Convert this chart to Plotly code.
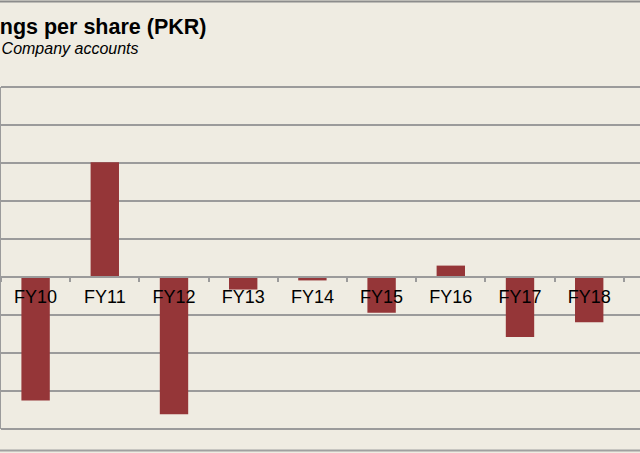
import plotly.graph_objects as go

categories = ["FY10", "FY11", "FY12", "FY13", "FY14", "FY15", "FY16", "FY17", "FY18"]
eps_values = [-6.5, 6.04, -7.22, -0.66, -0.18, -1.88, 0.6, -3.16, -2.38]

title_text = "Earnings per share (PKR)"
source_text = "Source: Company accounts"

BG = "#EFECE2"
BAR = "#953638"
GRID = "#9B9B9B"
FONT = "Liberation Sans, Arial, sans-serif"

W, H = 640, 453
ML, MR, MT, MB = 1, 0, 87, 24

fig = go.Figure()
fig.add_trace(go.Bar(
    x=categories, y=eps_values,
    marker=dict(color=BAR, line=dict(width=0)),
    width=0.41,
))

plot_w = W - ML - MR
cat_px = 69.2
x_max = -0.5 + plot_w / cat_px

fig.update_layout(
    width=W, height=H,
    margin=dict(l=ML, r=MR, t=MT, b=MB, pad=0),
    paper_bgcolor=BG, plot_bgcolor=BG,
    showlegend=False,
    font=dict(family=FONT, color="#000000"),
    xaxis=dict(
        type="category",
        range=[-0.5, x_max],
        anchor="free", position=8 / 18,
        showline=True, linecolor=GRID, linewidth=2,
        ticks="outside", ticklen=4, tickwidth=1.5, tickcolor=GRID,
        tickson="boundaries",
        ticklabelstandoff=3,
        showgrid=False, zeroline=False,
        tickfont=dict(size=18, color="#000000", family=FONT),
    ),
    yaxis=dict(
        range=[-8, 10], dtick=2, tick0=0,
        showgrid=True, gridcolor=GRID, gridwidth=2,
        zeroline=False,
        showline=True, linecolor=GRID, linewidth=2,
        showticklabels=False, ticks="",
    ),
    bargap=0.59,
)

# Title and source (cropped at the left edge like the reference)
x_title = (208 - ML) / plot_w
x_src = (141 - ML) / plot_w
ph = H - MT - MB
fig.add_annotation(
    text="<b>" + title_text + "</b>", xref="paper", yref="paper",
    x=x_title, xanchor="right", y=1 + (87 - 27) / ph, yanchor="middle",
    showarrow=False, font=dict(size=21.5, family=FONT, color="#000000"),
)
fig.add_annotation(
    text="<i>" + source_text + "</i>", xref="paper", yref="paper",
    x=x_src, xanchor="right", y=1 + (87 - 48.5) / ph, yanchor="middle",
    showarrow=False, font=dict(size=16, family=FONT, color="#000000"),
)

# Gridlines at the range edges (top and bottom of plot area), unclipped
for yp in (1.0, 0.0):
    fig.add_shape(type="line", xref="paper", yref="paper",
                  x0=0, x1=1, y0=yp, y1=yp,
                  line=dict(color=GRID, width=2), layer="below")

# Frame lines at top and bottom of the picture
fig.add_shape(type="line", xref="paper", yref="paper",
              x0=-ML / plot_w, x1=1, y0=1 + (MT - 1.5) / ph, y1=1 + (MT - 1.5) / ph,
              line=dict(color="#8C8C8C", width=2))
fig.add_shape(type="line", xref="paper", yref="paper",
              x0=-ML / plot_w, x1=1, y0=-(MB - 2.5) / ph, y1=-(MB - 2.5) / ph,
              line=dict(color="#A0A0A0", width=2))

fig.write_html("out.html")
